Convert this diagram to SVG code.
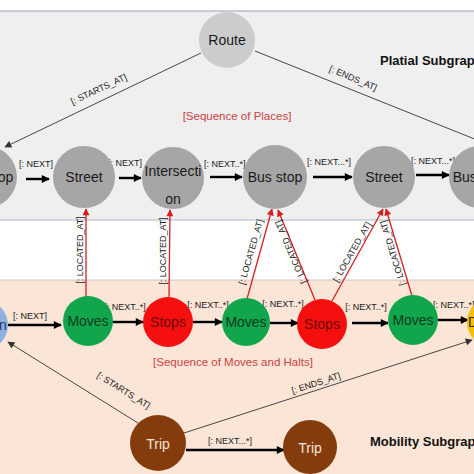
<svg xmlns="http://www.w3.org/2000/svg" width="474" height="474" viewBox="0 0 474 474">
<style>
text{font-family:"Liberation Sans",Arial,sans-serif}
.node{font-size:14px;text-anchor:middle}
.lbl{font-size:9px;fill:#222}
.mid{text-anchor:middle}
.red{stroke:#d42020;stroke-width:1.3;fill:none}
.blk{stroke:#000;stroke-width:2.4;fill:none}
.thin{stroke:#333;stroke-width:0.9;fill:none}
.seq{font-size:11.5px;fill:#c84444;text-anchor:middle}
.title{font-size:13px;font-weight:bold;fill:#111}
.gray{fill:#a6a6a6}
.green{fill:#12a64c}
.redn{fill:#f50f0f}
.trip{fill:#843c0c}
</style>
<defs>
<marker id="ab" viewBox="0 0 10 10" refX="9" refY="5" markerWidth="9" markerHeight="8" markerUnits="userSpaceOnUse" orient="auto"><path d="M0,0L10,5L0,10z" fill="#000"/></marker>
<marker id="ar" viewBox="0 0 10 10" refX="9" refY="5" markerWidth="8" markerHeight="7" markerUnits="userSpaceOnUse" orient="auto"><path d="M0,0L10,5L0,10z" fill="#d42020"/></marker>
<marker id="at" viewBox="0 0 10 10" refX="9" refY="5" markerWidth="8" markerHeight="7" markerUnits="userSpaceOnUse" orient="auto"><path d="M0,0L10,5L0,10z" fill="#333"/></marker>
</defs>
<rect x="0" y="0" width="474" height="474" fill="#fff"/>
<g id="panels">
<rect x="0" y="11" width="474" height="209" fill="#efefef"/>
<line x1="0" y1="11" x2="474" y2="11" stroke="#9aa3b3" stroke-width="1"/>
<line x1="0" y1="220" x2="474" y2="220" stroke="#adb9ca" stroke-width="1"/>
<rect x="0" y="280" width="474" height="194" fill="#fbe5d6"/>
<line x1="0" y1="280" x2="474" y2="280" stroke="#cfc7c2" stroke-width="1"/>
<text class="title" x="380" y="65">Platial Subgraph</text>
<text class="title" x="370" y="446">Mobility Subgraph</text>
<text class="seq" x="237" y="120">[Sequence of Places]</text>
<text class="seq" x="233" y="366">[Sequence of Moves and Halts]</text>
</g>
<g id="connectors">
<line class="thin" x1="201" y1="53" x2="5" y2="147" marker-end="url(#at)"/>
<line class="thin" x1="255" y1="51" x2="482" y2="142" marker-end="url(#at)"/>
<text class="lbl mid" transform="translate(100,92) rotate(-25)">[: STARTS_AT]</text>
<text class="lbl mid" transform="translate(352,81) rotate(23)">[: ENDS_AT]</text>
<line class="blk" x1="26" y1="179" x2="49" y2="179" marker-end="url(#ab)"/>
<line class="blk" x1="119" y1="178" x2="141" y2="178" marker-end="url(#ab)"/>
<line class="blk" x1="210" y1="177" x2="242" y2="177" marker-end="url(#ab)"/>
<line class="blk" x1="313" y1="177" x2="352" y2="177" marker-end="url(#ab)"/>
<line class="blk" x1="416" y1="175" x2="449" y2="175" marker-end="url(#ab)"/>
<text class="lbl mid" x="36" y="167">[: NEXT]</text>
<text class="lbl mid" x="125" y="166">[: NEXT]</text>
<text class="lbl" x="204" y="167">[: NEXT..*]</text>
<text class="lbl mid" x="329" y="165">[: NEXT...*]</text>
<text class="lbl mid" x="433" y="164">[: NEXT...*]</text>
<line class="red" x1="86" y1="297" x2="86" y2="209" marker-end="url(#ar)"/>
<line class="red" x1="169" y1="297" x2="170" y2="210" marker-end="url(#ar)"/>
<line class="red" x1="247" y1="299" x2="272" y2="209" marker-end="url(#ar)"/>
<line class="red" x1="315" y1="300" x2="278" y2="210" marker-end="url(#ar)"/>
<line class="red" x1="332" y1="301" x2="383" y2="209" marker-end="url(#ar)"/>
<line class="red" x1="412" y1="296" x2="386" y2="209" marker-end="url(#ar)"/>
<text class="lbl mid" dy="3" transform="translate(80,250) rotate(-90)">[: LOCATED_AT]</text>
<text class="lbl mid" dy="3" transform="translate(163,251) rotate(-90)">[: LOCATED_AT]</text>
<text class="lbl mid" dy="3" transform="translate(251,252) rotate(-74)">[: LOCATED_AT]</text>
<text class="lbl mid" dy="3" transform="translate(291,252) rotate(-113)">[: LOCATED_AT]</text>
<text class="lbl mid" dy="3" transform="translate(352,252) rotate(-60)">[: LOCATED_AT]</text>
<text class="lbl mid" dy="3" transform="translate(393,253) rotate(-107)">[: LOCATED_AT]</text>
<line class="blk" x1="8" y1="325" x2="61" y2="325" marker-end="url(#ab)"/>
<line class="blk" x1="112" y1="322" x2="143" y2="322" marker-end="url(#ab)"/>
<line class="blk" x1="193" y1="322" x2="222" y2="322" marker-end="url(#ab)"/>
<line class="blk" x1="270" y1="323" x2="298" y2="323" marker-end="url(#ab)"/>
<line class="blk" x1="352" y1="323" x2="388" y2="323" marker-end="url(#ab)"/>
<line class="blk" x1="437" y1="320" x2="468" y2="320" marker-end="url(#ab)"/>
<text class="lbl mid" x="30" y="319">[: NEXT]</text>
<text class="lbl mid" x="125" y="310">[: NEXT..*]</text>
<text class="lbl mid" x="208" y="308">[: NEXT..*]</text>
<text class="lbl mid" x="283" y="307">[: NEXT..*]</text>
<text class="lbl mid" x="366" y="310">[: NEXT..*]</text>
<text class="lbl" x="433" y="308">[: NEXT..*]</text>
<line class="thin" x1="138" y1="423" x2="8" y2="342" marker-end="url(#at)"/>
<line class="thin" x1="184" y1="433" x2="472" y2="340" marker-end="url(#at)"/>
<text class="lbl mid" transform="translate(122,393) rotate(32)">[: STARTS_AT]</text>
<text class="lbl mid" transform="translate(317,386) rotate(-18)">[: ENDS_AT]</text>
<line class="blk" x1="186" y1="450" x2="284" y2="450" marker-end="url(#ab)"/>
<text class="lbl mid" x="230" y="444">[: NEXT...*]</text>
</g>
<g id="route"><circle cx="227" cy="40" r="28" fill="#cccccc"/><text class="node" x="227" y="45" fill="#1a1a1a">Route</text></g>
<g id="busstop0"><circle cx="-14" cy="177" r="31" class="gray"/><text class="node" x="-14" y="182" fill="#1a1a1a">Bus stop</text></g>
<g id="street1"><circle cx="84" cy="177" r="31" class="gray"/><text class="node" x="84" y="182" fill="#1a1a1a">Street</text></g>
<g id="intersection"><circle cx="173" cy="178" r="31" class="gray"/><text class="node" x="173" y="176" fill="#1a1a1a">Intersecti</text><text class="node" x="173" y="204" fill="#1a1a1a">on</text></g>
<g id="busstop1"><circle cx="275" cy="177" r="32" class="gray"/><text class="node" x="275" y="182" fill="#1a1a1a">Bus stop</text></g>
<g id="street2"><circle cx="384" cy="177" r="31" class="gray"/><text class="node" x="384" y="182" fill="#1a1a1a">Street</text></g>
<g id="busstop2"><circle cx="480" cy="177" r="31" class="gray"/><text class="node" x="480" y="182" fill="#1a1a1a">Bus stop</text></g>
<g id="origin"><circle cx="-17" cy="325" r="25" fill="#8fb0e0"/><text class="node" x="-12" y="330" fill="#1f3864">Origin</text></g>
<g id="moves1"><circle cx="88" cy="321" r="25" class="green"/><text class="node" x="88" y="326" fill="#0a3b1c">Moves</text></g>
<g id="stops1"><circle cx="168" cy="322" r="25" class="redn"/><text class="node" x="168" y="327" fill="#6e0a0a">Stops</text></g>
<g id="moves2"><circle cx="246" cy="322" r="24" class="green"/><text class="node" x="246" y="327" fill="#0a3b1c">Moves</text></g>
<g id="stops2"><circle cx="322" cy="324" r="25" class="redn"/><text class="node" x="322" y="329" fill="#6e0a0a">Stops</text></g>
<g id="moves3"><circle cx="413" cy="320" r="25" class="green"/><text class="node" x="413" y="325" fill="#0a3b1c">Moves</text></g>
<g id="destination"><circle cx="492" cy="322" r="25" fill="#f5c000"/><text class="node" x="468" y="327" fill="#3a2a00" style="text-anchor:start">Destination</text></g>
<g id="trip1"><circle cx="158" cy="443" r="28" class="trip"/><text class="node" x="158" y="449" fill="#f4e4d8">Trip</text></g>
<g id="trip2"><circle cx="310" cy="447" r="27" class="trip"/><text class="node" x="310" y="453" fill="#f4e4d8">Trip</text></g>
</svg>
